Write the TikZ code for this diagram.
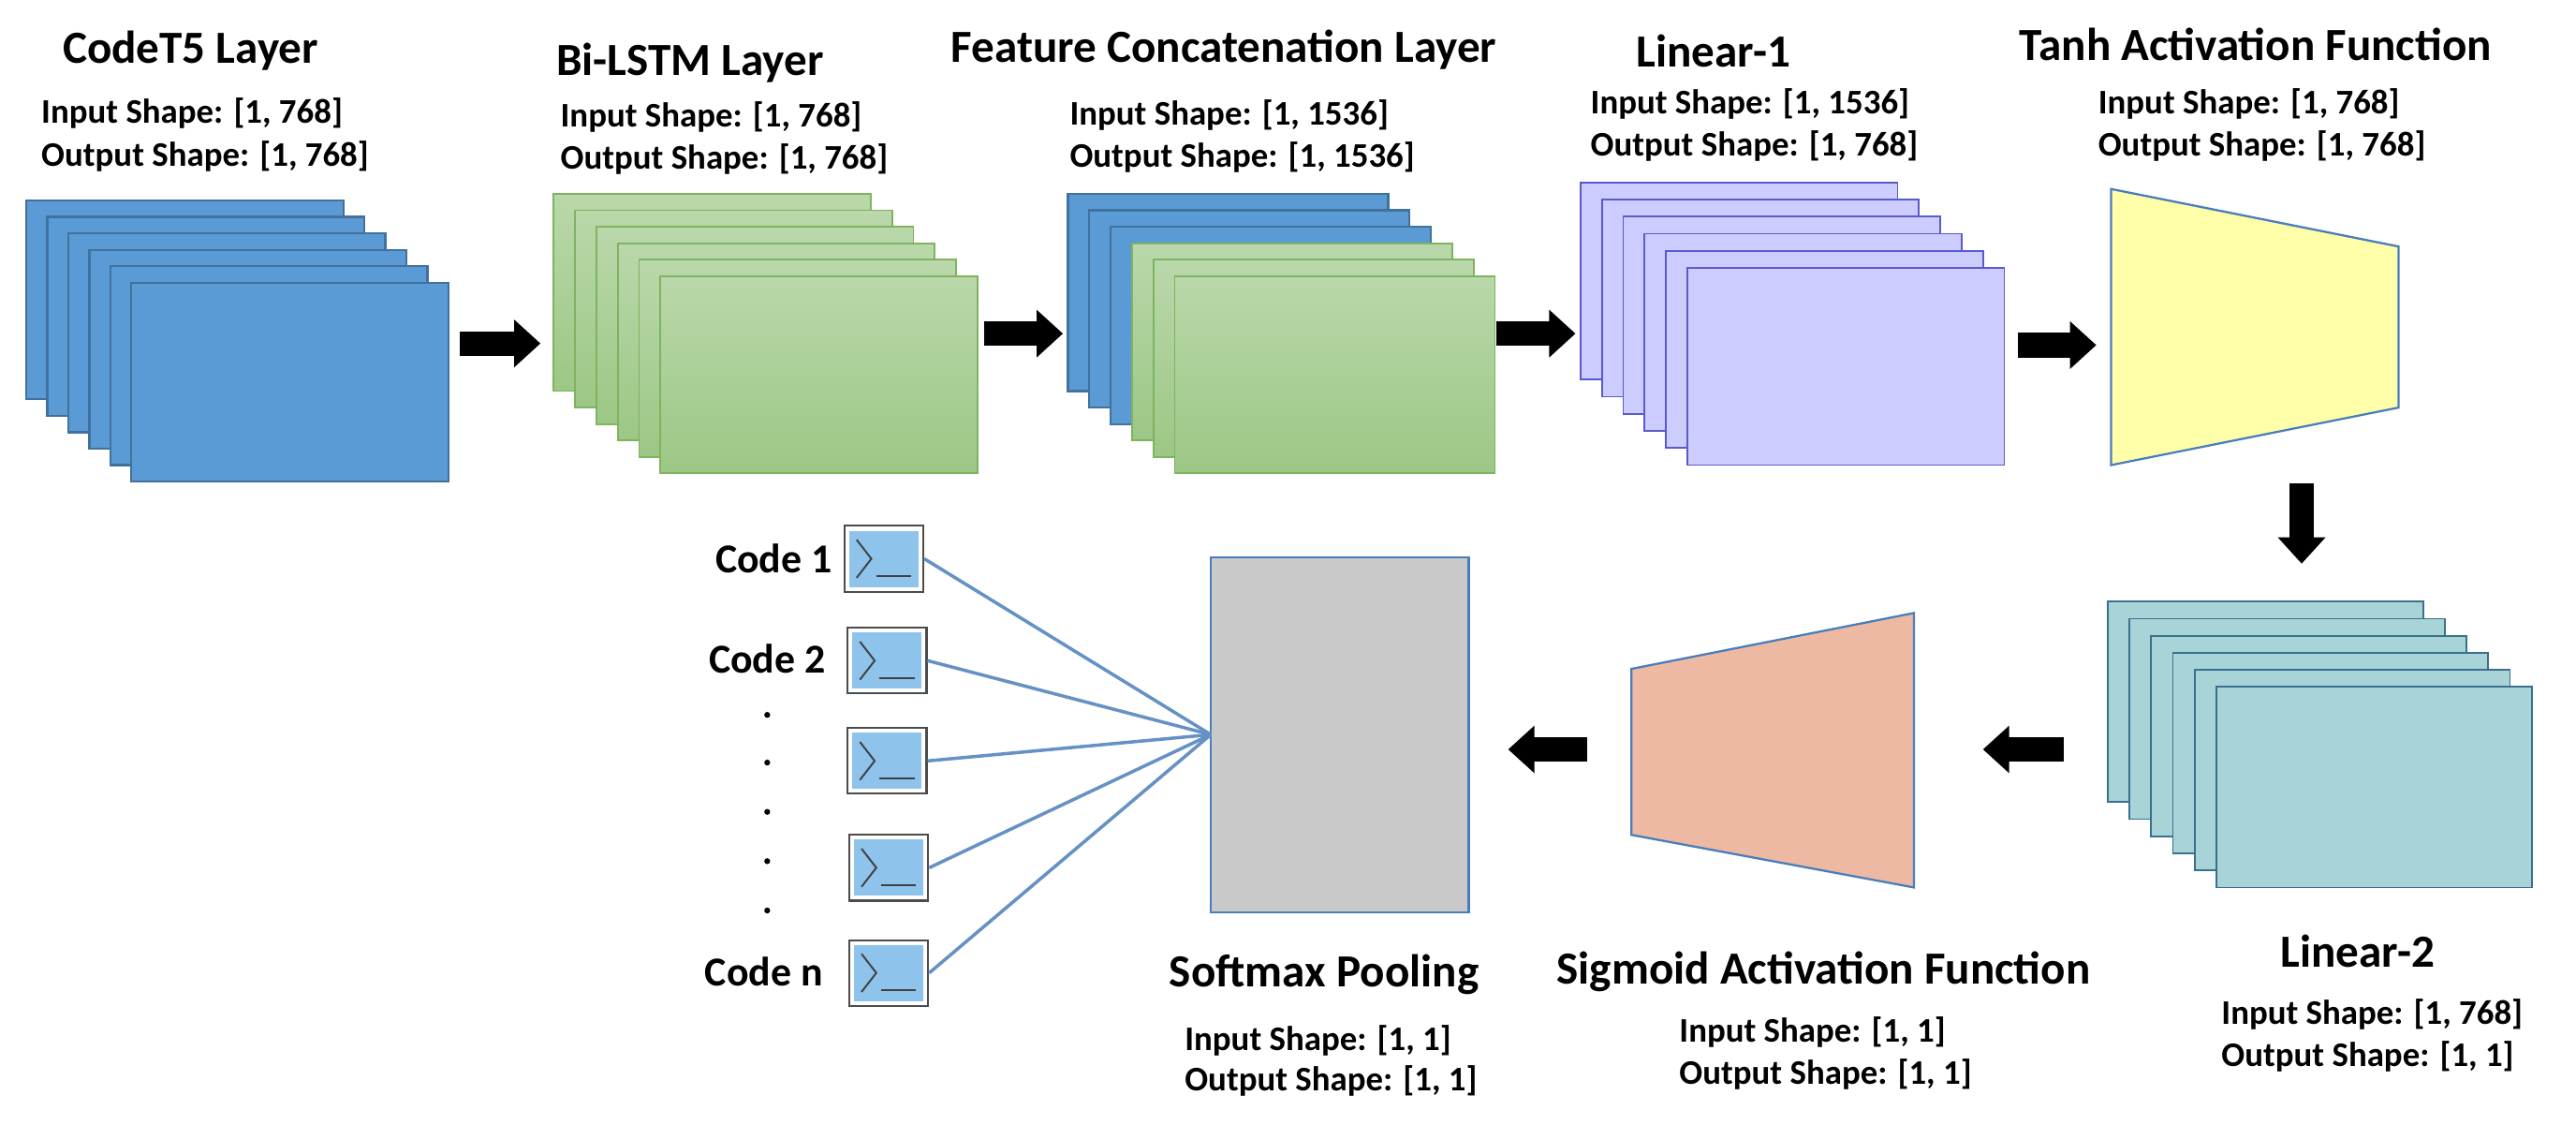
\documentclass[tikz,border=0pt]{standalone}
\usepackage{fontspec}
\setmainfont{Carlito}
\usetikzlibrary{arrows.meta}
\definecolor{tblue}{HTML}{5B9BD5}
\definecolor{tblueb}{HTML}{41719C}
\definecolor{gtop}{HTML}{BAD8AA}
\definecolor{gbot}{HTML}{9CC785}
\definecolor{gbrd}{HTML}{7FB35F}
\definecolor{purp}{HTML}{CCCCFF}
\definecolor{purpb}{HTML}{5A5ACF}
\definecolor{teal}{HTML}{A9D4D7}
\definecolor{tealb}{HTML}{3A6F8F}
\definecolor{yel}{HTML}{FFFFAA}
\definecolor{salm}{HTML}{EDB9A3}
\definecolor{edgeb}{HTML}{4A7EBB}
\definecolor{codein}{HTML}{8EC4EC}
\begin{document}
\begin{tikzpicture}[x=1pt,y=-1pt,
  ttl/.style={font=\fontsize{28}{32}\selectfont\bfseries,inner sep=0},
  cl/.style={font=\fontsize{25}{28}\selectfont\bfseries,inner sep=0},
  sm/.style={font=\fontsize{21}{24}\selectfont\bfseries,inner sep=0,anchor=west},
  bluerect/.style={fill=tblue,draw=tblueb,line width=1.3pt},
  greenrect/.style={top color=gtop,bottom color=gbot,draw=gbrd,line width=1pt},
  purprect/.style={fill=purp,draw=purpb,line width=1pt},
  tealrect/.style={fill=teal,draw=tealb,line width=1pt},
  blk/.style={line width=15pt,-{Triangle[length=16pt 0,width=28pt 0]}},
  feed/.style={draw=edgeb!85,line width=2pt},
  codebox/.style={draw=black!70,fill=white,line width=1.2pt,minimum width=48pt,minimum height=40pt,inner sep=0}]
\useasboundingbox (0,0) rectangle (1568,684);
% CodeT5 stack
\foreach \i in {0,...,5}{\draw[bluerect] (16+12.8*\i,122+10*\i) rectangle ++(193,121);}
\node[ttl] (t1) at (116,31) {CodeT5 Layer};
\node[sm] (i1) at (25,69) {Input Shape: [1, 768]};
\node[sm] (o1) at (25,95) {Output Shape: [1, 768]};
% BiLSTM
\foreach \i in {0,...,5}{\draw[greenrect] (337+13*\i,118+10*\i) rectangle ++(193,120);}
\node[ttl] (t2) at (420,38) {Bi-LSTM Layer};
\node[sm] (i2) at (341,71) {Input Shape: [1, 768]};
\node[sm] (o2) at (341,97) {Output Shape: [1, 768]};
% Feature concat
\foreach \i in {0,...,2}{\draw[bluerect] (650+13*\i,118+10*\i) rectangle ++(195,120);}
\foreach \i in {3,...,5}{\draw[greenrect] (650+13*\i,118+10*\i) rectangle ++(195,120);}
\node[ttl] (t3) at (745,30) {Feature Concatenation Layer};
\node[sm] (i3) at (651,70) {Input Shape: [1, 1536]};
\node[sm] (o3) at (651,96) {Output Shape: [1, 1536]};
% Linear-1
\foreach \i in {0,...,5}{\draw[purprect] (962+13*\i,111+10.4*\i) rectangle ++(193,120);}
\node[ttl] (t4) at (1043,31) {Linear-1};
\node[sm] (i4) at (968,63) {Input Shape: [1, 1536]};
\node[sm] (o4) at (968,89) {Output Shape: [1, 768]};
% Tanh
\draw[fill=yel,draw=edgeb,line width=1.3pt] (1285,115) -- (1460,150) -- (1460,248) -- (1285,283) -- cycle;
\node[ttl] (t5) at (1373,27) {Tanh Activation Function};
\node[sm] (i5) at (1277,63) {Input Shape: [1, 768]};
\node[sm] (o5) at (1277,89) {Output Shape: [1, 768]};
% Linear-2
\foreach \i in {0,...,5}{\draw[tealrect] (1283+13.2*\i,366+10.4*\i) rectangle ++(192,122);}
\node[ttl] (t6) at (1435,579) {Linear-2};
\node[sm] (i6) at (1352,617) {Input Shape: [1, 768]};
\node[sm] (o6) at (1352,643) {Output Shape: [1, 1]};
% Sigmoid
\draw[fill=salm,draw=edgeb,line width=1.3pt] (993,407) -- (1165,373) -- (1165,540) -- (993,508) -- cycle;
\node[ttl] (t7) at (1110,591) {Sigmoid Activation Function};
\node[sm] (i7) at (1022,628) {Input Shape: [1, 1]};
\node[sm] (o7) at (1022,654) {Output Shape: [1, 1]};
% Softmax
\node[draw=edgeb,fill=black!21,line width=1.3pt,minimum width=157pt,minimum height=216pt,inner sep=0] (sp) at (815.5,447) {};
\node[ttl] (t8) at (806,593) {Softmax Pooling};
\node[sm] (i8) at (721,633) {Input Shape: [1, 1]};
\node[sm] (o8) at (721,658) {Output Shape: [1, 1]};
\coordinate (conv) at (737,447);
% block arrows
\coordinate (a1s) at (280,209); \coordinate (a1e) at (329,209);
\coordinate (a2s) at (599,203); \coordinate (a2e) at (647,203);
\coordinate (a3s) at (911,203); \coordinate (a3e) at (959,203);
\coordinate (a4s) at (1228,210); \coordinate (a4e) at (1276,210);
\coordinate (a5s) at (1401,294); \coordinate (a5e) at (1401,343);
\coordinate (a6s) at (1256,456); \coordinate (a6e) at (1207,456);
\coordinate (a7s) at (966,456); \coordinate (a7e) at (918,456);
\foreach \n in {1,...,7}{\draw[blk] (a\n s) -- (a\n e);}
% code boxes
\foreach \n/\x/\y in {1/538/340,2/540/402,3/540/463,4/541/528,5/541/592}{
  \node[codebox] (cb\n) at (\x,\y) {};
  \fill[codein] ([shift={(3.5,3.5)}]cb\n.north west) rectangle ([shift={(-3.5,-3.5)}]cb\n.south east);
  \draw[black!75,line width=1.1pt] ([shift={(8,9)}]cb\n.north west) -- ([shift={(17,0)}]cb\n.west) -- ([shift={(8,-9)}]cb\n.south west);
  \draw[black!75,line width=1.3pt] ([shift={(20,-10)}]cb\n.south west) -- ([shift={(-8,-10)}]cb\n.south east);
  \draw[feed] (cb\n.east) -- (conv);
}
\node[cl] (c1) at (471,340) {Code 1};
\node[cl] (c2) at (467,401) {Code 2};
\node[cl] (cn) at (465,591) {Code n};
\foreach \y in {435,464,494,524,554}{\fill (467,\y) circle (1.8pt);}
\end{tikzpicture}
\end{document}
